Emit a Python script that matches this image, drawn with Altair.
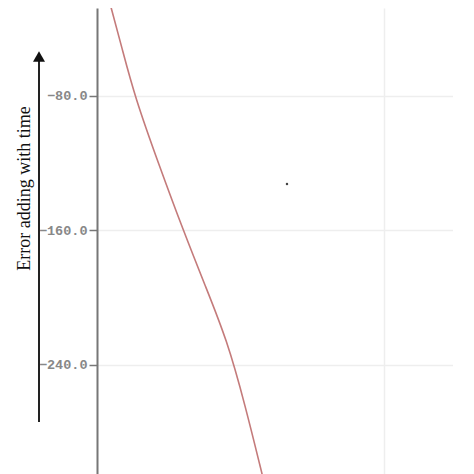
import altair as alt
import pandas as pd

# traced series
x_vals = [0.042, 0.087, 0.132, 0.216, 0.300, 0.376, 0.453, 0.516, 0.575, 0.582]
y_vals = [-22.9, -51.4, -80.6, -121.0, -159.7, -192.4, -225.1, -263.8, -304.8, -309.6]

dot_x = [0.662]
dot_y = [-132.3]

y_ticks = [-80, -160, -240]
x_grid = [1]

line_df = pd.DataFrame({"x": x_vals, "y": y_vals})
dot_df = pd.DataFrame({"x": dot_x, "y": dot_y})
one = pd.DataFrame({"a": [0]})

xs = alt.Scale(domain=[0, 1.2404], nice=False, zero=False)
ys = alt.Scale(domain=[-309.6, -27.66], nice=False, zero=False)

xaxis = alt.Axis(values=x_grid, labels=False, ticks=False, domain=False, title=None,
                 grid=True, gridColor="#eeeeee", gridWidth=1.5)
yaxis = alt.Axis(values=y_ticks, format=".1f", title="Error adding with time",
                 titleFont="Liberation Serif", titleFontSize=18, titleFontWeight="normal",
                 titleColor="#111111", titleAngle=270, titleX=-73, titleY=180,
                 titleAlign="center", titleBaseline="middle",
                 labelFont="Liberation Mono", labelFontSize=13.5, labelFontWeight="bold",
                 labelColor="#888888",
                 labelPadding=2, tickSize=8, tickColor="#777777", tickWidth=1.5,
                 domainColor="#777777", domainWidth=2,
                 grid=True, gridColor="#eeeeee", gridWidth=1.5)

line = alt.Chart(line_df).mark_line(color="#c47b7b", strokeWidth=1.6, clip=True,
                                    interpolate="basis").encode(
    x=alt.X("x:Q", scale=xs, axis=xaxis),
    y=alt.Y("y:Q", scale=ys, axis=yaxis),
    order="y:Q",
)

dot = alt.Chart(dot_df).mark_point(filled=True, color="#444444", size=6, opacity=1).encode(
    x=alt.X("x:Q", scale=xs),
    y=alt.Y("y:Q", scale=ys),
)

arrow_line = alt.Chart(one).mark_rule(color="#222222", strokeWidth=2).encode(
    x=alt.value(-58), y=alt.value(52), y2=alt.value(414)
)
arrow_head = alt.Chart(one).mark_point(shape="triangle-up", filled=True, color="#111111",
                                       size=144, opacity=1).encode(
    x=alt.value(-58), y=alt.value(48.5)
)

chart = alt.layer(line, dot, arrow_line, arrow_head).properties(
    width=356, height=474,
    padding={"left": 89, "top": 0, "right": 0, "bottom": 0},
    autosize=alt.AutoSizeParams(type="none"),
).configure_view(strokeOpacity=0, strokeWidth=0)

chart.save("out.html", embed_options={"renderer": "svg", "actions": False})
